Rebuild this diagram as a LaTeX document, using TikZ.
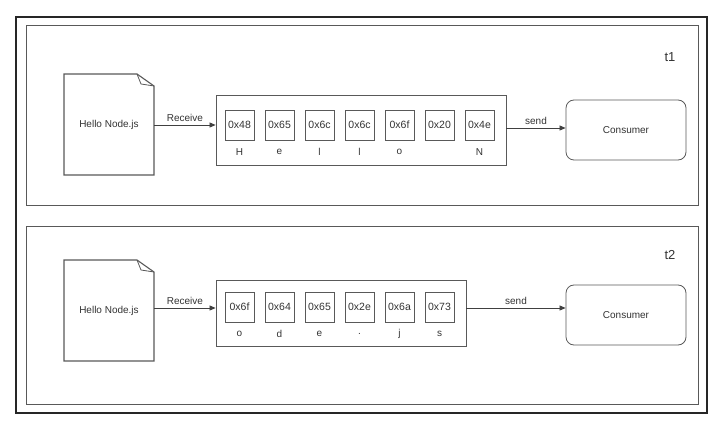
\documentclass[tikz,border=0pt]{standalone}
\usepackage{fontspec}
\setmainfont{Liberation Sans}
\usetikzlibrary{arrows.meta}
\begin{document}
\begin{tikzpicture}[x=1pt,y=-1pt,
  ln/.style={draw=black!65,line width=0.8pt},
  byte/.style={ln,minimum width=29pt,minimum height=30pt,inner sep=0pt,font=\fontsize{10.5}{12}\selectfont,text=black!80},
  lbl/.style={font=\fontsize{10}{12}\selectfont,text=black!80},
  cons/.style={ln,rounded corners=8pt,minimum width=120pt,minimum height=60pt,font=\fontsize{10}{12}\selectfont,text=black!80},
  arr/.style={draw=black!75,line width=0.7pt,-{Triangle[length=6pt,width=5pt]}}]
\useasboundingbox (0,0) rectangle (720,430);
\draw[line width=1.6pt,black!85] (16,17) rectangle (707,413);
\draw[ln] (26,25) rectangle (698,205);
\draw[ln] (26,226) rectangle (698,404);
\node[lbl,font=\fontsize{13}{15}\selectfont] (t1) at (670,57) {t1};
\node[lbl,font=\fontsize{13}{15}\selectfont] (t2) at (670,255) {t2};
% documents
\foreach \n/\y in {d1/74,d2/260}{
  \draw[ln,line width=1.1pt,fill=white] (64,\y) -- (137,\y) -- (154,\y+12) -- (154,\y+101) -- (64,\y+101) -- cycle;
  \draw[ln] (137,\y) -- (141,\y+10) -- (154,\y+12);
  \node[lbl,minimum width=90pt,minimum height=101pt,inner sep=0pt] (\n) at (109,\y+50.5) {Hello Node.js};
}
% containers
\node[ln,minimum width=290pt,minimum height=70pt,inner sep=0pt] (c1) at (361,130) {};
\node[ln,minimum width=250pt,minimum height=66pt,inner sep=0pt] (c2) at (341,313) {};
\foreach \i/\h/\c in {0/0x48/H,1/0x65/e,2/0x6c/l,3/0x6c/l,4/0x6f/o,5/0x20/,6/0x4e/N}{
  \node[byte] (a\i) at (239.5+40*\i,125) {\h};
  \node[lbl] (ac\i) at (239.5+40*\i,152) {\c};
}
\foreach \i/\h/\c in {0/0x6f/o,1/0x64/d,2/0x65/e,3/0x2e/.,4/0x6a/j,5/0x73/s}{
  \node[byte] (b\i) at (239.5+40*\i,307) {\h};
  \node[lbl] (bc\i) at (239.5+40*\i,334) {\c};
}
\node[cons] (k1) at (626,130) {Consumer};
\node[cons] (k2) at (626,315) {Consumer};
\draw[arr] (d1.east|-0,125) -- node[lbl,above] {Receive} (c1.west|-0,125);
\draw[arr] (d2.east|-0,308) -- node[lbl,above] {Receive} (c2.west|-0,308);
\draw[arr] (c1.east|-0,128) -- node[lbl,above] {send} (k1.west|-0,128);
\draw[arr] (c2.east|-0,308) -- node[lbl,above] {send} (k2.west|-0,308);
\end{tikzpicture}
\end{document}
